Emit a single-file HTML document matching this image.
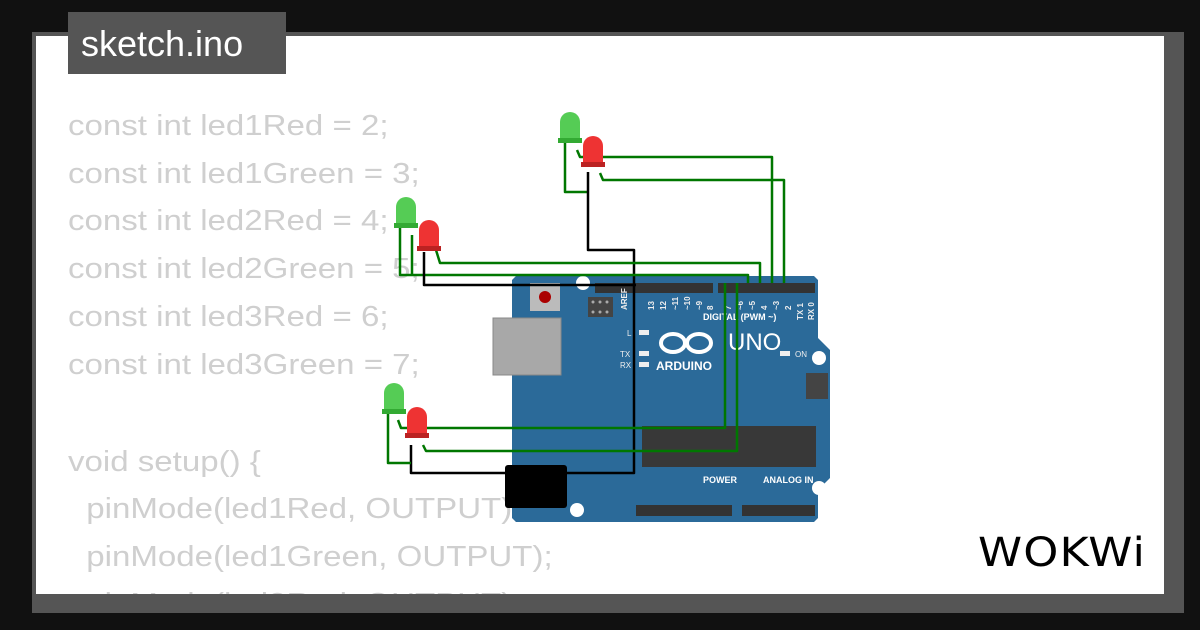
<!DOCTYPE html>
<html><head><meta charset="utf-8"><style>
html,body{margin:0;padding:0;width:1200px;height:630px;overflow:hidden;background:#111;}
svg{display:block}
</style></head><body>
<svg width="1200" height="630" viewBox="0 0 1200 630" xmlns="http://www.w3.org/2000/svg" font-family="Liberation Sans, sans-serif">
<rect x="0" y="0" width="1200" height="630" fill="#111"/>
<rect x="32" y="32" width="1152" height="581" fill="#555"/>
<rect x="36" y="36" width="1128" height="558" fill="#fff"/>
<defs><clipPath id="pc"><rect x="36" y="36" width="1128" height="558"/></clipPath></defs>
<g clip-path="url(#pc)">
<g fill="#cfcfcf" font-size="29" transform="translate(68,0) scale(1.14,1) translate(-68,0)">
<text x="68" y="135">const int led1Red = 2;</text>
<text x="68" y="183">const int led1Green = 3;</text>
<text x="68" y="230">const int led2Red = 4;</text>
<text x="68" y="278">const int led2Green = 5;</text>
<text x="68" y="326">const int led3Red = 6;</text>
<text x="68" y="374">const int led3Green = 7;</text>
<text x="68" y="471">void setup() {</text>
<text x="84" y="518">pinMode(led1Red, OUTPUT);</text>
<text x="84" y="566">pinMode(led1Green, OUTPUT);</text>
<text x="84" y="613">pinMode(led2Red, OUTPUT);</text>
</g>
</g>
<rect x="68" y="12" width="218" height="62" fill="#555"/>
<text x="81" y="56" fill="#fff" font-size="36">sketch.ino</text>

<!-- board -->
<path d="M516 276 H814 L818 280 V338 L830 350 V478 L818 490 V518 L814 522 H516 L512 518 V280 Z" fill="#2b6a99"/>
<rect x="493" y="318" width="68" height="57" fill="#a8a8a8" stroke="#888"/>
<rect x="530" y="283" width="30" height="28" fill="#bbb"/>
<circle cx="545" cy="297" r="6" fill="#a00"/>
<g fill="#444"><rect x="588" y="297" width="25" height="20"/></g>
<g fill="#aaa"><circle cx="593" cy="302" r="1.5"/><circle cx="600" cy="302" r="1.5"/><circle cx="607" cy="302" r="1.5"/><circle cx="593" cy="312" r="1.5"/><circle cx="600" cy="312" r="1.5"/><circle cx="607" cy="312" r="1.5"/></g>
<rect x="595" y="283" width="118" height="10" fill="#333"/>
<rect x="718" y="283" width="97" height="10" fill="#333"/>
<rect x="636" y="505" width="96" height="11" fill="#333"/>
<rect x="742" y="505" width="73" height="11" fill="#333"/>
<rect x="642" y="426" width="174" height="41" fill="#383838"/>
<rect x="806" y="373" width="22" height="26" fill="#444"/>
<g fill="#fff"><circle cx="583" cy="283" r="7"/><circle cx="819" cy="358" r="7"/><circle cx="819" cy="488" r="7"/><circle cx="577" cy="510" r="7"/></g>
<g fill="#fff" font-size="9" font-weight="bold"><text x="703" y="320">DIGITAL (PWM ~)</text><text x="703" y="483">POWER</text><text x="763" y="483">ANALOG IN</text></g>
<g fill="#eee" font-size="8"><text x="627" y="336">L</text><text x="620" y="357">TX</text><text x="620" y="368">RX</text><text x="795" y="357">ON</text></g>
<g fill="#eee" font-size="8" font-weight="bold"><text transform="translate(627,310) rotate(-90)">AREF</text><text transform="translate(654,310) rotate(-90)">13</text><text transform="translate(666,310) rotate(-90)">12</text><text transform="translate(678,310) rotate(-90)">~11</text><text transform="translate(690,310) rotate(-90)">~10</text><text transform="translate(702,310) rotate(-90)">~9</text><text transform="translate(713,310) rotate(-90)">8</text><text transform="translate(731,310) rotate(-90)">7</text><text transform="translate(743,310) rotate(-90)">~6</text><text transform="translate(755,310) rotate(-90)">~5</text><text transform="translate(767,310) rotate(-90)">4</text><text transform="translate(779,310) rotate(-90)">~3</text><text transform="translate(791,310) rotate(-90)">2</text><text transform="translate(803,320) rotate(-90)">TX 1</text><text transform="translate(814,320) rotate(-90)">RX 0</text></g>
<g fill="#eee"><rect x="639" y="330" width="10" height="5"/><rect x="639" y="351" width="10" height="5"/><rect x="639" y="362" width="10" height="5"/><rect x="780" y="351" width="10" height="5"/></g>
<text x="728" y="350" fill="#fff" font-size="24">UNO</text>
<text x="656" y="370" fill="#fff" font-size="12" font-weight="bold">ARDUINO</text>
<g fill="none" stroke="#fff" stroke-width="4"><ellipse cx="673" cy="343" rx="12" ry="9"/><ellipse cx="699" cy="343" rx="12" ry="9"/></g>
<rect x="505" y="465" width="62" height="43" rx="3" fill="#000"/>

<!-- wires -->
<g fill="none" stroke-width="2.5" stroke-linejoin="round">
<path d="M565 143 V192 H588" stroke="#070"/>
<path d="M577 150 L580 157 H772 V283" stroke="#070"/>
<path d="M600 173 L603 180 H784 V283" stroke="#070"/>
<path d="M588 172 V250 H634 V473 H411 V445" stroke="#000"/>
<path d="M400 228 V275 H748 V283" stroke="#070"/>
<path d="M412 235 V275" stroke="#070"/>
<path d="M436 250 L440 263 H760 V283" stroke="#070"/>
<path d="M424 252 V285 H636" stroke="#000"/>
<path d="M388 413 V463 H411" stroke="#070"/>
<path d="M398 420 L401 428 H725 V283" stroke="#070"/>
<path d="M423 445 L426 451 H737 V283" stroke="#070"/>
</g>

<!-- LEDs -->
<g>
<path d="M560 122 a10 10 0 0 1 20 0 v18 h-20z" fill="#5c5"/><rect x="558" y="138" width="24" height="5" fill="#3a3"/>
<path d="M583 146 a10 10 0 0 1 20 0 v18 h-20z" fill="#e33"/><rect x="581" y="162" width="24" height="5" fill="#b22"/>
<path d="M396 207 a10 10 0 0 1 20 0 v18 h-20z" fill="#5c5"/><rect x="394" y="223" width="24" height="5" fill="#3a3"/>
<path d="M419 230 a10 10 0 0 1 20 0 v18 h-20z" fill="#e33"/><rect x="417" y="246" width="24" height="5" fill="#b22"/>
<path d="M384 393 a10 10 0 0 1 20 0 v18 h-20z" fill="#5c5"/><rect x="382" y="409" width="24" height="5" fill="#3a3"/>
<path d="M407 417 a10 10 0 0 1 20 0 v18 h-20z" fill="#e33"/><rect x="405" y="433" width="24" height="5" fill="#b22"/>
</g>

<text x="978" y="566" font-size="40" fill="#000" font-family="DejaVu Sans, sans-serif" letter-spacing="1" textLength="168" lengthAdjust="spacingAndGlyphs">WOKWi</text>
</svg>
</body></html>
